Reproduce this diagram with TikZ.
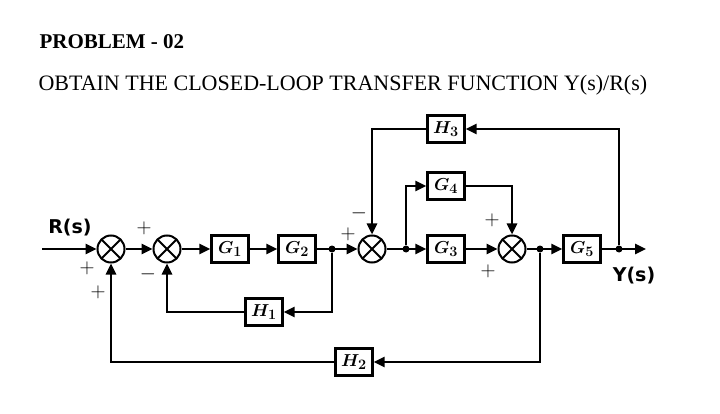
\documentclass[tikz,border=0pt]{standalone}
\usepackage{fontspec}
\setmainfont{Liberation Serif}
\newfontfamily\lblfont{DejaVu Sans}
\usetikzlibrary{arrows.meta}
\tikzset{
  blk/.style={draw, line width=2.4pt, minimum width=37pt, minimum height=27pt, inner sep=0pt, font=\boldmath\fontsize{19}{19}\selectfont},
  summer/.style={draw, circle, line width=2pt, minimum size=27pt, inner sep=0pt, path picture={
      \draw[line width=1.8pt] (path picture bounding box.north west) -- (path picture bounding box.south east)
        (path picture bounding box.north east) -- (path picture bounding box.south west);}},
  dot/.style={circle, fill, inner sep=0pt, minimum size=7pt},
  sig/.style={font=\fontsize{22}{22}\selectfont},
  line/.style={line width=2.6pt, -{Triangle[length=11pt,width=10pt]}},
  wire/.style={line width=2.6pt}
}
\begin{document}
\begin{tikzpicture}[x=1pt,y=-1pt]
	\useasboundingbox (0,0) rectangle (720,414);
	\node[anchor=base west, font=\bfseries\fontsize{21}{21}\selectfont] at (36,49) {PROBLEM - 02};
	\node[anchor=base west, font=\fontsize{22}{22}\selectfont] at (35,91) {OBTAIN THE CLOSED-LOOP TRANSFER FUNCTION Y(s)/R(s)};
	% forward path
	\coordinate (in) at (42,249);
	\node[summer] (s1) at (111,249) {};
	\node[summer] (s2) at (167,249) {};
	\node[blk] (g1) at (230,249) {$G_1$};
	\node[blk] (g2) at (297,249) {$G_2$};
	\node[dot] (b1) at (332,249) {};
	\node[summer] (s3) at (372,249) {};
	\node[dot] (b2) at (406,249) {};
	\node[blk] (g3) at (446,249) {$G_3$};
	\node[summer] (s4) at (512,249) {};
	\node[dot] (b3) at (540,249) {};
	\node[blk] (g5) at (582,249) {$G_5$};
	\node[dot] (b4) at (619,249) {};
	\coordinate (out) at (646,249);
	\node[blk] (g4) at (446,186) {$G_4$};
	\node[blk] (h3) at (446,129) {$H_3$};
	\node[blk] (h1) at (264,312) {$H_1$};
	\node[blk] (h2) at (354,362) {$H_2$};
	\draw[line] (in) -- (s1);
	\draw[line] (s1) -- (s2);
	\draw[line] (s2) -- (g1);
	\draw[line] (g1) -- (g2);
	\draw[line] (g2) -- (s3);
	\draw[line] (s3) -- (g3);
	\draw[line] (g3) -- (s4);
	\draw[line] (s4) -- (g5);
	\draw[line] (g5) -- (out);
	% feedback and parallel paths
	\draw[line] (b2) |- (g4);
	\draw[line] (g4) -| (s4);
	\draw[line] (b4) |- (h3);
	\draw[line] (h3) -| (s3);
	\draw[line] (b1) |- (h1);
	\draw[line] (h1) -| (s2);
	\draw[line] (b3) |- (h2);
	\draw[line] (h2) -| (s1);
	% labels
	\node[font=\lblfont\bfseries\fontsize{19}{19}\selectfont] (r) at (70,228) {R(s)};
	\node[font=\lblfont\bfseries\fontsize{19}{19}\selectfont] (y) at (634,276) {Y(s)};
	\node[sig] at (87,268) {$+$};
	\node[sig] at (98,292) {$+$};
	\node[sig] at (144,228) {$+$};
	\node[sig] at (148,274) {$-$};
	\node[sig] at (348,234) {$+$};
	\node[sig] at (359,213) {$-$};
	\node[sig] at (492,220) {$+$};
	\node[sig] at (488,271) {$+$};
\end{tikzpicture}
\end{document}
